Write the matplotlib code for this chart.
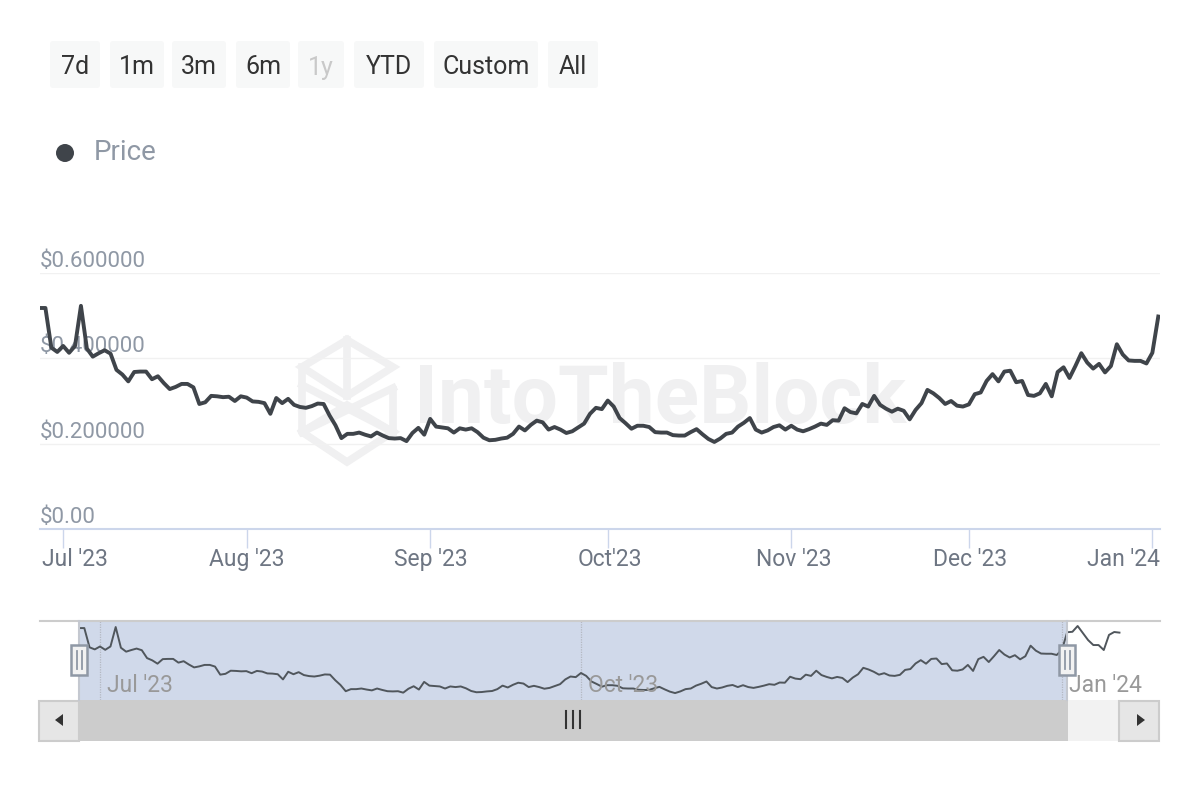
#!/usr/bin/env python3
"""
Token price chart with range buttons, navigator and scrollbar
"""

import pandas as pd
import matplotlib
matplotlib.use('Agg')
import matplotlib.pyplot as plt
import matplotlib.patches as patches
import matplotlib.dates as mdates
from matplotlib.transforms import ScaledTranslation

plt.rcParams['font.family'] = ['Roboto', 'DejaVu Sans']

# Daily close, first value is 27 Jun 2023
first_day = '2023-06-27'
prices = [
    .518, .518, .425, .415, .429, .413, .429, .523, .423, .404,
    .412, .419, .411, .373, .362, .346, .368, .369, .369, .351,
    .358, .342, .328, .333, .340, .340, .332, .293, .297, .312,
    .311, .309, .310, .300, .311, .308, .299, .298, .295, .270,
    .307, .295, .305, .291, .286, .284, .288, .294, .293, .266,
    .243, .213, .223, .223, .226, .221, .217, .226, .219, .213,
    .212, .213, .206, .225, .237, .221, .258, .240, .238, .236,
    .226, .236, .233, .236, .227, .214, .208, .209, .212, .214,
    .223, .240, .231, .244, .254, .250, .233, .239, .233, .225,
    .229, .238, .247, .270, .284, .281, .301, .287, .260, .248,
    .235, .242, .242, .239, .227, .226, .226, .220, .219, .219,
    .227, .234, .222, .211, .204, .212, .223, .226, .240, .249,
    .260, .233, .226, .231, .239, .243, .233, .242, .233, .229,
    .234, .240, .247, .244, .255, .254, .283, .274, .271, .293,
    .287, .312, .291, .282, .275, .282, .277, .257, .279, .295,
    .326, .318, .307, .293, .300, .289, .287, .292, .316, .320,
    .347, .363, .346, .369, .371, .344, .347, .314, .312, .318,
    .340, .311, .368, .379, .354, .382, .412, .390, .376, .387,
    .367, .382, .433, .409, .395, .394, .394, .388, .413, .498,
]
# Days after the selected range, only visible in the navigator
later_prices = [.500, .528, .494, .460, .436, .436, .412, .485, .499, .496]

y_ticks = [0, 0.2, 0.4, 0.6]
y_labels = ['$0.00', '$0.200000', '$0.400000', '$0.600000']
x_ticks = ['2023-07-01', '2023-08-01', '2023-09-01', '2023-10-01', '2023-11-01', '2023-12-01', '2024-01-01']
x_labels = ["Jul '23", "Aug '23", "Sep '23", "Oct'23", "Nov '23", "Dec '23", "Jan '24"]
nav_ticks = ['2023-07-01', '2023-10-01', '2024-01-01']
nav_labels = ["Jul '23", "Oct '23", "Jan '24"]
button_labels = ['7d', '1m', '3m', '6m', '1y', 'YTD', 'Custom', 'All']

LINE = '#3f444a'
MUTED = '#8f98a5'
W, H = 1200, 800


def px_axes(fig, left, top, right, bottom, **kwargs):
    """Axes placed by pixel box, y counted from the top of the image."""
    return fig.add_axes([left / W, 1 - bottom / H, (right - left) / W, (bottom - top) / H], **kwargs)


def draw_watermark(ui):
    color = '#f0f0f1'
    strokes = [
        [(347, 340), (393, 367), (347, 396), (302, 367), (347, 340)],
        [(347, 340), (347, 396)],
        [(302, 367), (302, 432), (347, 462), (393, 432), (347, 405), (302, 432)],
        [(393, 390), (393, 432)],
        [(302, 385), (393, 432)],
        [(393, 388), (302, 432)],
    ]
    for stroke in strokes:
        xs, ys = zip(*stroke)
        ui.plot(xs, ys, color=color, lw=5.5, solid_joinstyle='miter', zorder=1)
    ui.text(414, 401, 'IntoTheBlock', color=color, fontsize=59, fontweight='bold',
            va='center', ha='left', zorder=1)


def draw_buttons(ui):
    boxes = [(50, 100), (110, 164), (172, 226), (236, 290), (298, 344), (354, 424), (434, 538), (548, 598)]
    for label, (x0, x1) in zip(button_labels, boxes):
        ui.add_patch(patches.FancyBboxPatch((x0 + 3, 44), x1 - x0 - 6, 41,
                                            boxstyle='round,pad=3', fc='#f7f8f8', ec='none'))
        color = '#c9c9c9' if label == '1y' else '#333333'
        ui.text((x0 + x1) / 2, 67.5, label, color=color, fontsize=18, ha='center', va='center')


def draw_scrollbar(ui, top):
    ui.add_patch(patches.Rectangle((39, 700), 1121, 41, fc='#f2f2f2', ec='none'))
    ui.add_patch(patches.Rectangle((79, 700), 989, 41, fc='#cccccc', ec='none'))
    for x0 in (39, 1119):
        ui.add_patch(patches.Rectangle((x0, 701), 40, 40, fc='#e6e6e6', ec='#cccccc', lw=1.5))
    ui.add_patch(patches.Polygon([(63, 714), (63, 726), (55, 720)], fc='#333333'))
    ui.add_patch(patches.Polygon([(1137, 714), (1137, 726), (1145, 720)], fc='#333333'))
    for x in (566, 573, 580):
        ui.plot([x, x], [711, 728], color='#333333', lw=1.5)

    # Handles of the selected range
    for cx in (79, 1067):
        top.plot([cx, cx], [621, 700], color='#c4c8d0', lw=1.5, zorder=1)
        top.add_patch(patches.Rectangle((cx - 8, 645), 16, 30, fc='#f2f2f2', ec='#8f98a5', lw=1.8, zorder=2))
        for dx in (-2.5, 2.5):
            top.plot([cx + dx, cx + dx], [651, 669], color='#8f98a5', lw=1.3, zorder=3)


def main():
    fig = plt.figure(figsize=(12, 8), dpi=100)

    ui = px_axes(fig, 0, 0, W, H, zorder=0)
    ui.set_xlim(0, W)
    ui.set_ylim(H, 0)
    ui.axis('off')

    top = px_axes(fig, 0, 0, W, H, zorder=5)
    top.set_xlim(0, W)
    top.set_ylim(H, 0)
    top.axis('off')

    draw_watermark(ui)
    draw_buttons(ui)
    draw_scrollbar(ui, top)

    # Legend
    ui.add_patch(patches.Circle((65, 153), 9, fc=LINE, ec='none'))
    ui.text(94, 152.5, 'Price', color=MUTED, fontsize=20, va='center', ha='left')

    # Main chart, the axis line sits a little above the zero value
    dates = pd.date_range(first_day, periods=len(prices), freq='D')
    ax = px_axes(fig, 40, 273, 1160, 529, zorder=2)
    ax.patch.set_alpha(0)
    ax.plot(dates, prices, color=LINE, lw=2.8, zorder=5, solid_joinstyle='round')
    ax.set_xlim(dates[0] + pd.Timedelta(hours=2), dates[-1] + pd.Timedelta(hours=7))
    ax.set_ylim(0.0035, 0.6)
    for side in ('top', 'left', 'right'):
        ax.spines[side].set_visible(False)
    ax.spines['bottom'].set_color('#ccd6eb')
    ax.spines['bottom'].set_linewidth(1.5)
    ax.set_yticks(y_ticks)
    ax.set_yticklabels([])
    ax.tick_params(axis='y', length=0)
    ax.grid(True, axis='y', color='#f1f1f1', lw=1)
    ax.set_axisbelow(True)
    for value, label in zip(y_ticks, y_labels):
        ax.annotate(label, xy=(0, value), xycoords=ax.get_yaxis_transform(), xytext=(0, 8.2),
                    textcoords='offset points', color=MUTED, fontsize=16, va='center', ha='left', zorder=3)

    ax.set_xticks(pd.to_datetime(x_ticks))
    ax.set_xticklabels(x_labels)
    ax.tick_params(axis='x', length=13.5, width=1, color='#ccd6eb', labelcolor='#6e7683',
                   labelsize=16.5, pad=0.5)
    nudges = [12, 0, 1, 2, 2, 1, -29]
    for lab, dx in zip(ax.get_xticklabels(), nudges):
        lab.set_transform(lab.get_transform() + ScaledTranslation(dx / 100, 0, fig.dpi_scale_trans))

    # Navigator
    all_prices = prices + later_prices
    all_dates = pd.date_range(first_day, periods=len(all_prices), freq='D')
    nav = px_axes(fig, 40, 621, 1160, 700, zorder=3)
    nav.patch.set_alpha(0)
    nav_start = pd.Timestamp('2023-07-01') - pd.Timedelta(days=60 / 5.228)
    nav_end = pd.Timestamp('2023-07-01') + pd.Timedelta(days=1060 / 5.228)
    nav.set_xlim(nav_start, nav_end)
    nav.set_ylim((735.3 - 700) / 207, (735.3 - 621) / 207)
    nav.axvspan(dates[0], dates[-1], color='#d0d9ea', lw=0, zorder=0)
    nav.plot(all_dates, all_prices, color='#50565c', lw=1.4, zorder=3)
    for side in ('left', 'right', 'bottom'):
        nav.spines[side].set_visible(False)
    nav.spines['top'].set_color('#cccccc')
    nav.spines['top'].set_linewidth(1.5)
    nav.set_xticks([])
    nav.set_yticks([])
    for tick, label in zip(pd.to_datetime(nav_ticks), nav_labels):
        nav.axvline(tick, color='#b4b8c2', lw=0.9, ls=(0, (1, 1)), zorder=1)
        nav.annotate(label, xy=(mdates.date2num(tick), 0), xycoords=nav.get_xaxis_transform(), xytext=(5, 10.2),
                     textcoords='offset points', color='#999999', fontsize=16.5, va='center', ha='left', zorder=4)

    plt.savefig('out.png', dpi=100)
    plt.close(fig)


if __name__ == "__main__":
    main()
